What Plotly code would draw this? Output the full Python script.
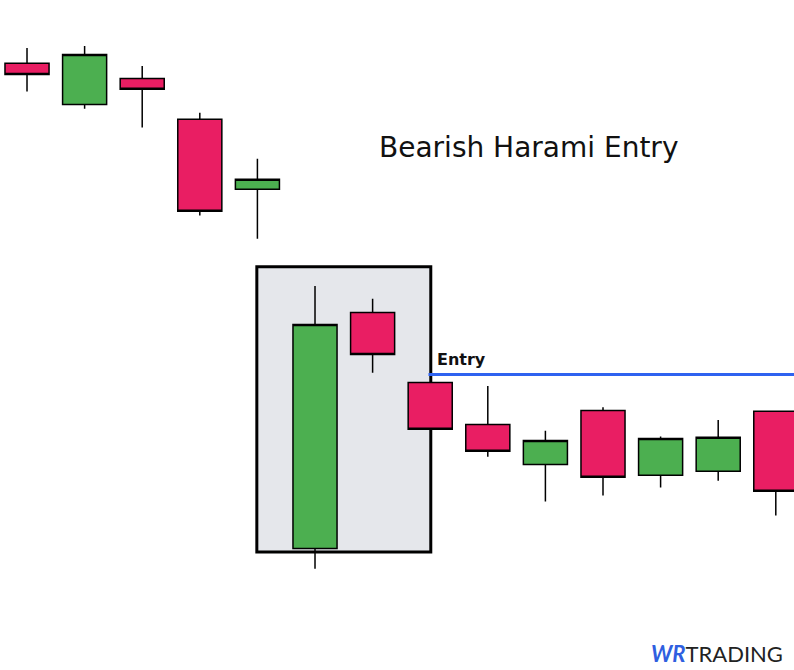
import plotly.graph_objects as go

# Candle data (index, OHLC)
idx = list(range(14))
opens  = [144.2, 133.9, 140.4, 130.2, 112.7, 22.9, 81.9, 64.4, 53.9, 43.9, 57.4, 41.2, 42.2, 57.2]
highs  = [148.0, 148.5, 143.5, 131.8, 120.3, 88.5, 85.3, 64.4, 63.5, 52.3, 58.2, 50.9, 55.0, 57.4]
lows   = [137.1, 132.8, 128.1, 106.1, 100.3, 17.8, 66.8, 52.7, 45.8, 34.6, 36.1, 38.1, 39.8, 31.1]
closes = [141.4, 146.4, 137.7, 107.2, 115.2, 78.9, 71.4, 52.7, 47.2, 49.9, 40.7, 50.4, 50.7, 37.2]

harami_idx = [5, 6]          # the two candles of the pattern
entry_price = 66.4           # entry level (below harami low)
title_text = "Bearish Harami Entry"
entry_label = "Entry"

GREEN = "#4caf50"
RED = "#e91e63"

fig = go.Figure()

# Highlight box around harami pattern
box_x0 = min(harami_idx) - 1.01
box_x1 = max(harami_idx) + 1.01
box_y0 = min(lows[i] for i in harami_idx) + 4.2
box_y1 = max(highs[i] for i in harami_idx) + 4.8
fig.add_shape(type="rect", xref="x", yref="y",
              x0=box_x0, x1=box_x1, y0=box_y0, y1=box_y1,
              fillcolor="#e5e7eb", line=dict(color="black", width=3),
              layer="below")

fig.add_trace(go.Candlestick(
    x=idx, open=opens, high=highs, low=lows, close=closes,
    increasing=dict(fillcolor=GREEN, line=dict(color="black", width=1.5)),
    decreasing=dict(fillcolor=RED, line=dict(color="black", width=1.5)),
    whiskerwidth=0, hoverinfo="skip", showlegend=False,
))

# Entry line
fig.add_shape(type="line", xref="x", yref="y",
              x0=box_x1 - 0.04, x1=14, y0=entry_price, y1=entry_price,
              line=dict(color="#2e62f0", width=3))

fig.add_annotation(x=box_x1 + 0.08, y=entry_price, xref="x", yref="y",
                   text="<b>" + entry_label + "</b>", showarrow=False,
                   xanchor="left", yanchor="bottom", yshift=3,
                   font=dict(family="DejaVu Sans", size=16, color="#111111"))

fig.add_annotation(x=528, y=147, xref="paper", yref="paper",
                   text=title_text, showarrow=False, xanchor="center", yanchor="middle",
                   font=dict(family="DejaVu Sans", size=28, color="#111111"))

# Watermark
fig.add_annotation(x=785, y=653, xref="paper", yref="paper",
                   text="<span style='color:#2f5fe0'><b><i>WR</i></b></span>TRADING",
                   showarrow=False, xanchor="right", yanchor="middle",
                   font=dict(family="Lato", size=22, color="#222222"))

W, H = 794, 670
# convert pixel positions of paper annotations
for a in fig.layout.annotations:
    if a.xref == "paper":
        a.x = a.x / W
        a.y = 1 - a.y / H

fig.update_layout(
    width=W, height=H, margin=dict(l=0, r=0, t=0, b=0),
    paper_bgcolor="white", plot_bgcolor="white",
    xaxis=dict(range=[-0.469, 13.316], visible=False, rangeslider=dict(visible=False), fixedrange=True),
    yaxis=dict(range=[-7.5, 160], visible=False, fixedrange=True),
    boxgap=0.235, boxgroupgap=0,
)

fig.write_html("out.html", config={"displayModeBar": False},
               post_script="document.body.style.margin='0';document.body.style.overflow='hidden';")
